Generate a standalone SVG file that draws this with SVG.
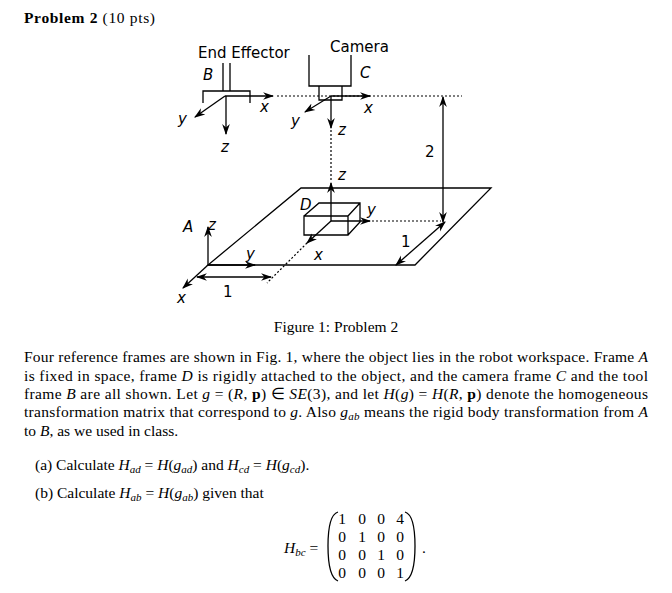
<svg xmlns="http://www.w3.org/2000/svg" width="672" height="593" viewBox="0 0 672 593">
<style>
.s{font-family:"DejaVu Sans",sans-serif;font-size:15px;fill:#000}
.i{font-family:"DejaVu Sans",sans-serif;font-size:15px;font-style:italic;fill:#000}
.t{font-family:"Liberation Serif",serif;font-size:15.5px;fill:#000}
.m{font-family:"Liberation Serif",serif;font-style:italic}
.ln{stroke:#000;stroke-width:1.3;fill:none}
.dt{stroke:#000;stroke-width:1.2;fill:none;stroke-dasharray:2 2}
</style>
<defs>
<marker id="a" viewBox="0 0 10 10" refX="9" refY="5" markerWidth="11" markerHeight="11" orient="auto-start-reverse" markerUnits="userSpaceOnUse"><path d="M0,1.5 L10,5 L0,8.5 L3,5 z" fill="#000"/></marker>
</defs>
<rect width="672" height="593" fill="#fff"/>
<text x="24" y="23" class="t" font-weight="bold" textLength="131">Problem 2 <tspan font-weight="normal">(10 pts)</tspan></text>

<g id="endeffector">
<text x="198" y="58" class="s">End Effector</text>
<text x="203" y="80" class="i">B</text>
<path class="ln" d="M223,63V91M230,63V91M203,103V91H250V103"/>
<path class="ln" marker-end="url(#a)" d="M225,96H273"/>
<path class="ln" marker-end="url(#a)" d="M225,96L195,117"/>
<path class="ln" marker-end="url(#a)" d="M226,96V134"/>
<text x="260" y="112" class="i">x</text>
<text x="178" y="124" class="i">y</text>
<text x="221" y="152" class="i">z</text>
</g>

<g id="camera">
<text x="330" y="52" class="s">Camera</text>
<text x="360" y="78" class="i">C</text>
<path class="ln" d="M309,55V86H351V55M319,86H342V100H319z"/>
<path class="ln" marker-end="url(#a)" d="M331,96H370"/>
<path class="ln" marker-end="url(#a)" d="M331,96L305,112"/>
<path class="ln" marker-end="url(#a)" d="M331,96V128"/>
<text x="364" y="113" class="i">x</text>
<text x="291" y="126" class="i">y</text>
<text x="338" y="135" class="i">z</text>
</g>

<g id="plane">
<path class="ln" d="M301,188H491L415,265H208z"/>
</g>

<g id="object">
<path class="ln" d="M304,216H348V235H304zM304,216L319,203H360V222L348,235M348,216L360,203"/>
<text x="300" y="210" class="i">D</text>
<path class="ln" marker-end="url(#a)" d="M331,221V183"/>
<path class="ln" marker-end="url(#a)" d="M331,221H370"/>
<path class="ln" marker-end="url(#a)" d="M331,221L307,243"/>
<text x="338" y="180" class="i">z</text>
<text x="367" y="215" class="i">y</text>
<text x="314" y="260" class="i">x</text>
</g>

<g id="frameA">
<text x="183" y="232" class="i">A</text>
<path class="ln" marker-end="url(#a)" d="M208,265V227"/>
<path class="ln" marker-end="url(#a)" d="M208,265H255"/>
<path class="ln" marker-end="url(#a)" d="M208,265L183,288"/>
<text x="208" y="230" class="i">z</text>
<text x="246" y="259" class="i">y</text>
<text x="177" y="303" class="i">x</text>
</g>

<g id="connectors">
<path class="dt" d="M277,96H462"/>
<path class="dt" d="M331,130V180"/>
<path class="dt" d="M372,221H441"/>
<path class="dt" d="M307,243L267,283"/>
<path class="ln" marker-start="url(#a)" marker-end="url(#a)" d="M443,97V222"/>
<path class="ln" marker-start="url(#a)" marker-end="url(#a)" d="M445,222L396,265"/>
<path class="ln" marker-start="url(#a)" marker-end="url(#a)" d="M197,277H271"/>
<text x="425" y="157" class="s">2</text>
<text x="401" y="247" class="s">1</text>
<text x="223" y="297" class="s">1</text>
</g>

<text x="336" y="332" class="t" text-anchor="middle">Figure 1: Problem 2</text>
<g class="t">
<text x="24" y="362" textLength="624" lengthAdjust="spacing">Four reference frames are shown in Fig. 1, where the object lies in the robot workspace. Frame <tspan class="m">A</tspan></text>
<text x="24" y="381" textLength="624" lengthAdjust="spacing">is fixed in space, frame <tspan class="m">D</tspan> is rigidly attached to the object, and the camera frame <tspan class="m">C</tspan> and the tool</text>
<text x="24" y="399" textLength="624" lengthAdjust="spacing">frame <tspan class="m">B</tspan> are all shown. Let <tspan class="m">g</tspan> = (<tspan class="m">R</tspan>, <tspan font-weight="bold">p</tspan>) ∈ <tspan class="m">SE</tspan>(3), and let <tspan class="m">H</tspan>(<tspan class="m">g</tspan>) = <tspan class="m">H</tspan>(<tspan class="m">R</tspan>, <tspan font-weight="bold">p</tspan>) denote the homogeneous</text>
<text x="24" y="417" textLength="624" lengthAdjust="spacing">transformation matrix that correspond to <tspan class="m">g</tspan>. Also <tspan class="m">g<tspan font-size="11" dy="3">ab</tspan></tspan><tspan dy="-3"> means the rigid body transformation from </tspan><tspan class="m">A</tspan></text>
<text x="24" y="436">to <tspan class="m">B</tspan>, as we used in class.</text>
<text x="35" y="470">(a) Calculate <tspan class="m">H<tspan font-size="11" dy="3">ad</tspan></tspan><tspan dy="-3"> = </tspan><tspan class="m">H</tspan>(<tspan class="m">g<tspan font-size="11" dy="3">ad</tspan></tspan><tspan dy="-3">) and </tspan><tspan class="m">H<tspan font-size="11" dy="3">cd</tspan></tspan><tspan dy="-3"> = </tspan><tspan class="m">H</tspan>(<tspan class="m">g<tspan font-size="11" dy="3">cd</tspan></tspan><tspan dy="-3">).</tspan></text>
<text x="35" y="498">(b) Calculate <tspan class="m">H<tspan font-size="11" dy="3">ab</tspan></tspan><tspan dy="-3"> = </tspan><tspan class="m">H</tspan>(<tspan class="m">g<tspan font-size="11" dy="3">ab</tspan></tspan><tspan dy="-3">) given that</tspan></text>
<text x="284" y="553"><tspan class="m">H<tspan font-size="11" dy="3">bc</tspan></tspan><tspan dy="-3"> =</tspan></text>
<g text-anchor="middle">
<text x="342" y="524">1</text><text x="362" y="524">0</text><text x="381" y="524">0</text><text x="400" y="524">4</text>
<text x="342" y="542">0</text><text x="362" y="542">1</text><text x="381" y="542">0</text><text x="400" y="542">0</text>
<text x="342" y="560">0</text><text x="362" y="560">0</text><text x="381" y="560">1</text><text x="400" y="560">0</text>
<text x="342" y="578">0</text><text x="362" y="578">0</text><text x="381" y="578">0</text><text x="400" y="578">1</text>
</g>
<text x="422" y="553">.</text>
</g>
<path class="ln" stroke-width="1.2" d="M338,512Q328,515 328,546Q328,577 338,581M405,512Q415,515 415,546Q415,577 405,581"/>
</svg>
